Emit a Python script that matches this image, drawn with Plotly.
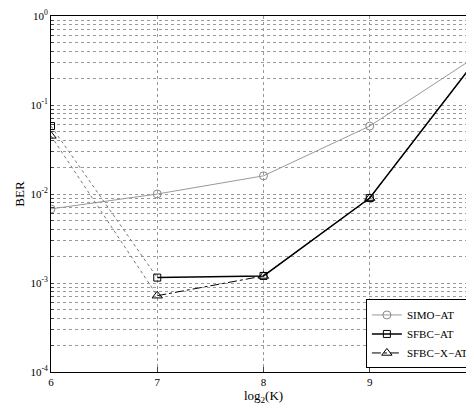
import plotly.graph_objects as go

# data
log2k = [6, 7, 8, 9, 10]
simo_at = [6.8e-3, 1.0e-2, 1.6e-2, 5.8e-2, 3.5e-1]
sfbc_at = [5.8e-2, 1.15e-3, 1.2e-3, 9.0e-3, 3.2e-1]
sfbc_x_at = [4.5e-2, 7.2e-4, 1.2e-3, 9.0e-3, 3.2e-1]

decades = [1e-4, 1e-3, 1e-2, 1e-1, 1e0]
decade_text = ["10<sup>-4</sup>", "10<sup>-3</sup>", "10<sup>-2</sup>", "10<sup>-1</sup>", "10<sup>0</sup>"]

# ticks at each decade plus unlabeled minor steps (for the dotted grid)
ytick_vals, ytick_text = [], []
for d, t in zip(decades, decade_text):
    ytick_vals.append(d)
    ytick_text.append(t)
    if d < 1:
        for m in range(2, 10):
            ytick_vals.append(d * m)
            ytick_text.append("")

fnt = dict(family="Liberation Serif", size=11, color="black")

fig = go.Figure()
fig.add_trace(go.Scatter(x=log2k, y=simo_at, name="SIMO\u2212AT", mode="lines+markers",
                         line=dict(color="#999999", width=1),
                         marker=dict(symbol="circle-open", size=8, color="#888888")))
# dotted first segments
fig.add_trace(go.Scatter(x=log2k[:2], y=sfbc_at[:2], mode="lines", showlegend=False,
                         line=dict(color="#777777", width=1, dash="dot")))
fig.add_trace(go.Scatter(x=log2k[:2], y=sfbc_x_at[:2], mode="lines", showlegend=False,
                         line=dict(color="#777777", width=1, dash="dot")))
fig.add_trace(go.Scatter(x=log2k[1:], y=sfbc_at[1:], mode="lines", showlegend=False,
                         line=dict(color="black", width=1.5)))
fig.add_trace(go.Scatter(x=log2k[1:], y=sfbc_x_at[1:], mode="lines", showlegend=False,
                         line=dict(color="black", width=1, dash="dashdot")))
fig.add_trace(go.Scatter(x=log2k, y=sfbc_at, mode="markers", showlegend=False,
                         marker=dict(symbol="square-open", size=7, color="black")))
fig.add_trace(go.Scatter(x=log2k, y=sfbc_x_at, mode="markers", showlegend=False,
                         marker=dict(symbol="triangle-up-open", size=9, color="black")))
# legend entries
fig.add_trace(go.Scatter(x=[None], y=[None], name="SFBC\u2212AT", mode="lines+markers",
                         line=dict(color="black", width=1.5),
                         marker=dict(symbol="square-open", size=7, color="black")))
fig.add_trace(go.Scatter(x=[None], y=[None], name="SFBC\u2212X\u2212AT", mode="lines+markers",
                         line=dict(color="black", width=1, dash="dashdot"),
                         marker=dict(symbol="triangle-up-open", size=9, color="black")))

fig.update_layout(
    width=474, height=410, template="none",
    plot_bgcolor="white", paper_bgcolor="white",
    margin=dict(l=43, r=6, t=8, b=46),
    font=fnt,
    legend=dict(x=0.995, y=0.01, xanchor="right", yanchor="bottom",
                bordercolor="black", borderwidth=1, bgcolor="white",
                font=dict(family="Liberation Serif", size=11)),
    xaxis=dict(range=[6, 10], tickvals=log2k, showgrid=True, gridcolor="#999999",
               griddash="dot", gridwidth=1, mirror=True, showline=True, linecolor="black",
               ticks="inside", zeroline=False, title=dict(text="log<sub>2</sub>(K)", standoff=2)),
    yaxis=dict(type="log", range=[-4, 0], tickvals=ytick_vals, ticktext=ytick_text,
               showgrid=True, gridcolor="#999999", griddash="dot", gridwidth=1,
               mirror=True, showline=True, linecolor="black", ticks="inside", ticklen=3,
               zeroline=False, title=dict(text="BER", standoff=2)),
)
fig.add_annotation(text="Fig. 5.   Simulation: BER versus number of carriers, SNR = 15 dB, <i>M</i><sub>T</sub> = 2",
                   xref="paper", yref="paper", x=-0.09, y=-0.13, xanchor="left", yanchor="top",
                   showarrow=False, font=dict(family="Liberation Serif", size=12))

fig.write_html("out.html")
